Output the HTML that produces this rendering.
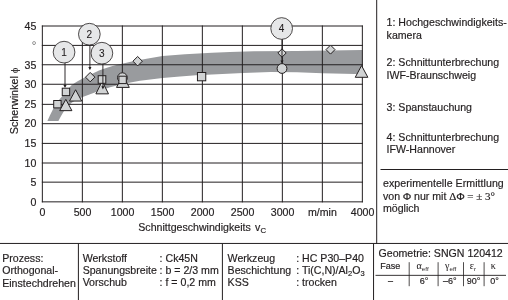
<!DOCTYPE html>
<html><head><meta charset="utf-8"><title>Scherwinkel</title>
<style>html,body{margin:0;padding:0;background:#fff}svg{display:block}text{font-family:"Liberation Sans",sans-serif;font-size:10.6px;fill:#231f20;stroke:#231f20;stroke-width:0.18px}.sy{font-family:"Liberation Serif",serif;stroke-width:0.05px}.t9{font-size:9px}.g{stroke:#231f20;stroke-width:1;fill:none}.m{fill:#d1d3d4;stroke:#231f20;stroke-width:1}.c{fill:#e6e7e8;stroke:#231f20;stroke-width:0.8}.a{stroke:#231f20;stroke-width:0.95;fill:none}</style></head><body>
<svg width="508" height="300" viewBox="0 0 508 300">
<rect width="508" height="300" fill="#fff"/>
<polygon fill="#999b9e" points="47.4,121.1 50.0,115.3 53.0,109.3 56.0,104.4 59.0,100.0 62.4,96.0 66.5,91.0 71.5,85.3 74.0,83.4 78.0,81.0 82.3,78.8 87.5,76.0 92.8,73.4 99.0,70.6 106.2,68.0 112.5,66.1 119.5,64.3 126.5,62.7 134.0,61.1 148.0,58.4 162.5,56.1 185.0,54.3 212.0,52.7 230.0,51.9 253.8,51.2 297.0,50.9 330.0,50.4 362.4,50.0 362.4,74.2 355.0,74.1 322.6,73.3 297.0,72.2 270.6,72.1 243.0,73.0 212.0,74.6 196.0,75.3 180.0,76.6 162.5,78.1 140.0,80.8 125.0,83.5 110.0,87.3 96.1,92.0 89.4,94.5 82.7,97.0 77.0,99.6 72.0,102.5 67.5,106.6 63.4,112.0 60.5,117.0 58.4,121.1"/>
<line class="g" x1="42.35" y1="25.50" x2="42.35" y2="202.35"/>
<line class="g" x1="82.35" y1="25.50" x2="82.35" y2="202.35"/>
<line class="g" x1="122.35" y1="25.50" x2="122.35" y2="202.35"/>
<line class="g" x1="162.35" y1="25.50" x2="162.35" y2="202.35"/>
<line class="g" x1="202.35" y1="25.50" x2="202.35" y2="202.35"/>
<line class="g" x1="242.35" y1="25.50" x2="242.35" y2="202.35"/>
<line class="g" x1="282.35" y1="25.50" x2="282.35" y2="202.35"/>
<line class="g" x1="322.35" y1="25.50" x2="322.35" y2="202.35"/>
<line class="g" x1="362.35" y1="25.50" x2="362.35" y2="202.35"/>
<line class="g" x1="41.85" y1="201.85" x2="362.85" y2="201.85"/>
<line class="g" x1="41.85" y1="182.15" x2="362.85" y2="182.15"/>
<line class="g" x1="41.85" y1="163.00" x2="362.85" y2="163.00"/>
<line class="g" x1="41.85" y1="143.40" x2="362.85" y2="143.40"/>
<line class="g" x1="41.85" y1="123.70" x2="362.85" y2="123.70"/>
<line class="g" x1="41.85" y1="104.35" x2="362.85" y2="104.35"/>
<line class="g" x1="41.85" y1="84.25" x2="362.85" y2="84.25"/>
<line class="g" x1="41.85" y1="64.75" x2="362.85" y2="64.75"/>
<line class="g" x1="41.85" y1="45.40" x2="362.85" y2="45.40"/>
<line class="g" x1="41.85" y1="26.00" x2="362.85" y2="26.00"/>
<line class="a" x1="65.00" y1="62.00" x2="65.00" y2="86.60"/>
<polygon fill="#231f20" points="63.45,84.90 66.55,84.90 65.00,88.10"/>
<line class="a" x1="89.90" y1="44.00" x2="89.90" y2="68.80"/>
<polygon fill="#231f20" points="88.35,67.10 91.45,67.10 89.90,70.30"/>
<rect class="m" x="53.70" y="100.50" width="7.40" height="7.40"/>
<polygon class="m" points="65.80,99.35 59.70,110.65 71.90,110.65"/>
<rect class="m" x="62.25" y="88.20" width="7.40" height="7.40"/>
<polygon class="m" points="75.60,89.75 69.50,101.05 81.70,101.05"/>
<polygon class="m" points="90.20,72.45 94.90,77.15 90.20,81.85 85.50,77.15"/>
<polygon class="m" points="102.20,81.25 95.90,93.85 108.50,93.85"/>
<rect class="m" x="98.20" y="75.70" width="7.60" height="7.60"/>
<line class="a" x1="102.90" y1="63.00" x2="102.90" y2="88.00"/>
<polygon fill="#231f20" points="101.35,86.30 104.45,86.30 102.90,89.50"/>
<polygon class="m" points="122.90,75.50 116.50,87.40 129.30,87.40"/>
<circle class="m" cx="122.40" cy="77.70" r="4.90"/>
<rect class="m" x="118.90" y="76.20" width="7.40" height="7.40"/>
<polygon class="m" points="137.65,56.50 142.35,61.20 137.65,65.90 132.95,61.20"/>
<rect class="m" x="197.45" y="72.50" width="8.30" height="8.30"/>
<polygon class="m" points="282.00,48.80 286.20,53.00 282.00,57.20 277.80,53.00"/>
<circle class="m" cx="282.00" cy="68.50" r="4.90"/>
<line class="a" x1="282.00" y1="38.00" x2="282.00" y2="62.30"/>
<polygon fill="#231f20" points="280.45,60.60 283.55,60.60 282.00,63.80"/>
<polygon class="m" points="330.50,45.10 335.00,49.60 330.50,54.10 326.00,49.60"/>
<polygon class="m" points="361.55,65.60 355.25,77.30 367.85,77.30"/>
<circle class="c" cx="89.35" cy="34.20" r="10.85"/>
<text x="89.35" y="37.60" text-anchor="middle" style="font-size:10px;stroke-width:0.1px">2</text>
<circle class="c" cx="64.05" cy="52.15" r="10.85"/>
<text x="64.05" y="55.55" text-anchor="middle" style="font-size:10px;stroke-width:0.1px">1</text>
<circle class="c" cx="101.90" cy="53.20" r="10.85"/>
<text x="101.90" y="56.60" text-anchor="middle" style="font-size:10px;stroke-width:0.1px">3</text>
<circle class="c" cx="281.65" cy="28.50" r="10.85"/>
<text x="281.65" y="31.90" text-anchor="middle" style="font-size:10px;stroke-width:0.1px">4</text>
<text x="36.4" y="205.60" text-anchor="end">0</text>
<text x="36.4" y="185.90" text-anchor="end">5</text>
<text x="36.4" y="166.75" text-anchor="end">10</text>
<text x="36.4" y="147.15" text-anchor="end">15</text>
<text x="36.4" y="127.45" text-anchor="end">20</text>
<text x="36.4" y="108.10" text-anchor="end">25</text>
<text x="36.4" y="88.00" text-anchor="end">30</text>
<text x="36.4" y="68.50" text-anchor="end">35</text>
<text x="36.4" y="29.75" text-anchor="end">45</text>
<text x="34.15" y="48.9" text-anchor="middle" style="font-size:11.5px;stroke:none;fill:#666">°</text>
<text x="42.55" y="215.7" text-anchor="middle">0</text>
<text x="82.55" y="215.7" text-anchor="middle">500</text>
<text x="122.55" y="215.7" text-anchor="middle">1000</text>
<text x="162.55" y="215.7" text-anchor="middle">1500</text>
<text x="202.55" y="215.7" text-anchor="middle">2000</text>
<text x="242.55" y="215.7" text-anchor="middle">2500</text>
<text x="282.55" y="215.7" text-anchor="middle">3000</text>
<text x="322.45" y="215.7" text-anchor="middle">m/min</text>
<text x="362.55" y="215.7" text-anchor="middle">4000</text>
<text x="138.3" y="230.7">Schnittgeschwindigkeits <tspan dx="1.2">v</tspan><tspan dy="2.4" dx="0.3" style="font-size:7.8px">C</tspan></text>
<text transform="translate(17.5,134.3) rotate(-90)" style="font-size:10.8px">Scherwinkel <tspan class="sy" style="font-size:10px">ϕ</tspan></text>
<line class="g" x1="376.7" y1="0" x2="376.7" y2="244"/>
<line class="g" x1="380.5" y1="169.5" x2="508" y2="169.5"/>
<line class="g" x1="0" y1="243.45" x2="508" y2="243.45"/>
<line class="g" x1="78.4" y1="243.6" x2="78.4" y2="300"/>
<line class="g" x1="222.4" y1="243.6" x2="222.4" y2="300"/>
<line class="g" x1="373.55" y1="243.6" x2="373.55" y2="300"/>
<text x="386.6" y="26.2">1: Hochgeschwindigkeits-</text>
<text x="386.6" y="39.1">kamera</text>
<text x="386.6" y="66.4">2: Schnittunterbrechung</text>
<text x="386.6" y="79.0">IWF-Braunschweig</text>
<text x="386.6" y="110.5">3: Spanstauchung</text>
<text x="386.6" y="140.7">4: Schnittunterbrechung</text>
<text x="386.6" y="153.4">IFW-Hannover</text>
<text x="383.0" y="187.3" style="letter-spacing:0.05px">experimentelle Ermittlung</text>
<text x="383.0" y="199.5">von <tspan class="sy" style="font-size:11px;stroke-width:0.2px">Φ</tspan> nur mit <tspan class="sy" style="font-size:11px;stroke-width:0.2px">ΔΦ = ± 3°</tspan></text>
<text x="383.0" y="212.1">möglich</text>
<text x="2.2" y="261.6">Prozess:</text>
<text x="2.2" y="274">Orthogonal-</text>
<text x="2.2" y="286.6">Einstechdrehen</text>
<text x="82.65" y="261.6">Werkstoff</text><text x="159.6" y="261.6">: Ck45N</text>
<text x="82.65" y="273.9">Spanungsbreite</text><text x="159.6" y="273.9">: b = 2/3 mm</text>
<text x="82.65" y="286.3">Vorschub</text><text x="159.6" y="286.3">: f = 0,2 mm</text>
<text x="227.6" y="261.6">Werkzeug</text><text x="296.2" y="261.6">: HC P30–P40</text>
<text x="227.6" y="273.9">Beschichtung</text><text x="296.2" y="273.9">: Ti(C,N)/Al<tspan dy="2.5" style="font-size:7.5px">2</tspan><tspan dy="-2.5">O</tspan><tspan dy="2.5" style="font-size:7.5px">3</tspan></text>
<text x="227.6" y="286.3">KSS</text><text x="296.2" y="286.3">: trocken</text>
<text x="378.5" y="257">Geometrie: SNGN 120412</text>
<line class="g" x1="375.5" y1="275.35" x2="506" y2="275.35" style="stroke-width:0.9"/>
<line class="g" x1="409.2" y1="262.2" x2="409.2" y2="286.2" style="stroke-width:0.8"/>
<line class="g" x1="438.1" y1="262.2" x2="438.1" y2="286.2" style="stroke-width:0.8"/>
<line class="g" x1="463.5" y1="262.2" x2="463.5" y2="286.2" style="stroke-width:0.8"/>
<line class="g" x1="484.1" y1="262.2" x2="484.1" y2="286.2" style="stroke-width:0.8"/>
<text class="t9" x="390.3" y="269" text-anchor="middle">Fase</text>
<text class="t9" x="422.6" y="269" text-anchor="middle"><tspan class="sy" style="font-size:10px">α</tspan><tspan dy="1.8" style="font-size:6.2px;stroke-width:0">eff</tspan></text>
<text class="t9" x="450.7" y="269" text-anchor="middle"><tspan class="sy" style="font-size:10px">γ</tspan><tspan dy="1.8" style="font-size:6.2px;stroke-width:0">eff</tspan></text>
<text class="t9" x="473.0" y="269" text-anchor="middle"><tspan class="sy" style="font-size:10px">ε</tspan><tspan dy="1.8" style="font-size:6.2px;stroke-width:0">r</tspan></text>
<text class="t9 sy" x="493.2" y="269" text-anchor="middle" style="font-size:10px">κ</text>
<text class="t9" x="390.6" y="284.4" text-anchor="middle">–</text>
<text class="t9" x="424.1" y="284.4" text-anchor="middle">6°</text>
<text class="t9" x="449.9" y="284.4" text-anchor="middle">–6°</text>
<text class="t9" x="473.6" y="284.4" text-anchor="middle">90°</text>
<text class="t9" x="494.6" y="284.4" text-anchor="middle">0°</text>
</svg></body></html>
